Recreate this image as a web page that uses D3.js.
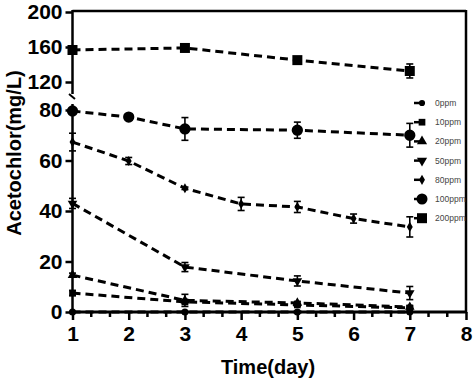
<!DOCTYPE html>
<html><head><meta charset="utf-8">
<script src="https://cdn.jsdelivr.net/npm/d3@7"></script>
<style>body{margin:0;background:#fff}svg{display:block}</style>
</head><body>
<svg id="c" width="474" height="383"></svg>
<script>
// ---- data ----
const seriesNames = ["0ppm","10ppm","20ppm","50ppm","80ppm","100ppm","200ppm"];
const daysA   = [1,3,5,7];
const days80  = [1,2,3,4,5,6,7];
const days100 = [1,2,3,5,7];
const ppm0   = [0,0,0,0];            const err0   = [0,0,0,0];
const ppm10  = [7.5,4.0,2.8,1.6];    const err10  = [1,0.6,0.5,0.4];
const ppm20  = [14.6,4.6,3.6,2.0];   const err20  = [0.8,2.4,0.6,0.5];
const ppm50  = [43,17.8,12.3,7.5];   const err50  = [2,1.8,2,2.6];
const ppm80  = [67.3,59.8,49,42.8,41.6,37,33.7]; const err80 = [3.5,1.4,0.5,2.6,2.2,1.8,4];
const ppm100 = [79.6,77.2,72.5,72,70];   const err100 = [0,0.8,4.5,3.2,4.7];
const ppm200 = [156.6,158.9,145,132.6];  const err200 = [2,1.5,2,8];
const xTicks = [1,2,3,4,5,6,7,8];
const yTicksLow = [0,20,40,60,80];
const yTicksHigh = [120,160,200];

const svg = d3.select("#c");
const FONT = "'Liberation Sans', Arial, sans-serif";
const x = d3.scaleLinear().domain([1,8]).range([72.5,466]);
const yLow = d3.scaleLinear().domain([0,80]).range([312,110]);
const yHigh = d3.scaleLinear().domain([120,200]).range([82,12]);
const y = v => v > 100 ? yHigh(v) : yLow(v);

const series = [
  {name:"0ppm",  d:daysA,  v:ppm0,  e:err0,  sym:d3.symbolCircle,  size:40,  lsize:30},
  {name:"10ppm", d:daysA,  v:ppm10, e:err10, sym:d3.symbolSquare,  size:45,  lsize:45},
  {name:"20ppm", d:daysA,  v:ppm20, e:err20, sym:d3.symbolTriangle,size:40,  lsize:45, rot:0},
  {name:"50ppm", d:daysA,  v:ppm50, e:err50, sym:d3.symbolTriangle,size:40,  lsize:45, rot:180},
  {name:"80ppm", d:days80, v:ppm80, e:err80, sym:d3.symbolDiamond, size:30,  lsize:30},
  {name:"100ppm",d:days100,v:ppm100,e:err100,sym:d3.symbolCircle,  size:100, lsize:95},
  {name:"200ppm",d:daysA,  v:ppm200,e:err200,sym:d3.symbolSquare,  size:100, lsize:100}
];

// frame: top and right
svg.append("line").attr("x1",72.5).attr("x2",466).attr("y1",11).attr("y2",11).attr("stroke","#000").attr("stroke-width",2.5);
svg.append("line").attr("x1",466).attr("x2",466).attr("y1",10).attr("y2",313).attr("stroke","#000").attr("stroke-width",2.5);

// lines
const line = d3.line().x(p=>x(p[0])).y(p=>y(p[1]));
series.forEach(s=>{
  const pts = s.d.map((d,i)=>[d,s.v[i]]);
  svg.append("path").attr("d",line(pts)).attr("fill","none").attr("stroke","#000")
    .attr("stroke-width",3).attr("stroke-dasharray","8,5");
});

// error bars
series.forEach(s=>{
  s.d.forEach((d,i)=>{
    const e = s.e[i]; if(!e) return;
    const cx = x(d), y1 = y(s.v[i]+e), y2 = y(s.v[i]-e);
    const g = svg.append("g").attr("stroke","#000").attr("stroke-width",1.6);
    g.append("line").attr("x1",cx).attr("x2",cx).attr("y1",y1).attr("y2",y2);
    g.append("line").attr("x1",cx-3.5).attr("x2",cx+3.5).attr("y1",y1).attr("y2",y1);
    g.append("line").attr("x1",cx-3.5).attr("x2",cx+3.5).attr("y1",y2).attr("y2",y2);
  });
});

// markers
series.forEach(s=>{
  s.d.forEach((d,i)=>{
    svg.append("path").attr("d",d3.symbol().type(s.sym).size(s.size)())
      .attr("transform",`translate(${x(d)},${y(s.v[i])}) rotate(${s.rot||0})`).attr("fill","#000");
  });
});

// axes
function styleAxis(g){
  g.select(".domain").remove();
  g.selectAll(".tick line").attr("stroke","#000").attr("stroke-width",2.5);
  g.selectAll(".tick text").attr("font-family",FONT).attr("font-weight","bold").attr("font-size",21).attr("fill","#000");
}
const gx = svg.append("g").attr("transform","translate(0,312)")
  .call(d3.axisBottom(x).tickValues(xTicks).tickFormat(d3.format("d")).tickSize(8).tickPadding(6));
styleAxis(gx);
// minor x ticks
const minor = [];
xTicks.slice(0,-1).forEach(t=>{minor.push(t+1/3); minor.push(t+2/3);});
svg.append("g").selectAll("line").data(minor).join("line")
  .attr("x1",d=>x(d)).attr("x2",d=>x(d)).attr("y1",312).attr("y2",317)
  .attr("stroke","#000").attr("stroke-width",2.5);
svg.append("line").attr("x1",72.5).attr("x2",466).attr("y1",312).attr("y2",312).attr("stroke","#000").attr("stroke-width",2.8);

const gyl = svg.append("g").attr("transform","translate(72.5,0)")
  .call(d3.axisLeft(yLow).tickValues(yTicksLow).tickSize(7).tickPadding(3));
styleAxis(gyl);
const gyh = svg.append("g").attr("transform","translate(72.5,0)")
  .call(d3.axisLeft(yHigh).tickValues(yTicksHigh).tickSize(7).tickPadding(3));
styleAxis(gyh);
// axis lines with break
svg.append("line").attr("x1",72.5).attr("x2",72.5).attr("y1",10).attr("y2",94).attr("stroke","#000").attr("stroke-width",2.5);
svg.append("line").attr("x1",69).attr("x2",75).attr("y1",94).attr("y2",99).attr("stroke","#000").attr("stroke-width",2);
svg.append("line").attr("x1",72.5).attr("x2",72.5).attr("y1",104).attr("y2",313).attr("stroke","#000").attr("stroke-width",2.5);

// titles
svg.append("text").attr("x",268).attr("y",374).attr("text-anchor","middle")
  .attr("font-family",FONT).attr("font-weight","bold").attr("font-size",20).text("Time(day)");
svg.append("text").attr("transform","translate(21,153) rotate(-90)").attr("text-anchor","middle")
  .attr("font-family",FONT).attr("font-weight","bold").attr("font-size",20).text("Acetochlor(mg/L)");

// legend
const lg = svg.append("g");
series.forEach((s,i)=>{
  const ly = 103 + i*19.2;
  lg.append("line").attr("x1",414).attr("x2",421).attr("y1",ly).attr("y2",ly).attr("stroke","#000").attr("stroke-width",2.5);
  lg.append("path").attr("d",d3.symbol().type(s.sym).size(s.lsize)())
    .attr("transform",`translate(422,${ly}) rotate(${s.rot||0})`).attr("fill","#000");
  lg.append("text").attr("x",435).attr("y",ly+3).attr("font-family",FONT).attr("font-size",8.5)
    .attr("fill","#444").text(s.name);
});
</script>
</body></html>
